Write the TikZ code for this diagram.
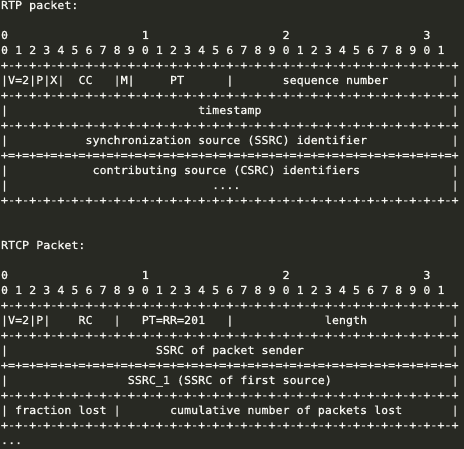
\documentclass[tikz,border=0pt]{standalone}
\usepackage{fontspec}
\setmainfont[FakeStretch=1.063,FakeBold=0.9,Ligatures=NoCommon]{DejaVu Sans Mono}
\definecolor{termbg}{HTML}{282923}
\definecolor{termfg}{HTML}{F4F4F0}
\newcommand{\asc}[4]{\node[asc] (#1) at ({1+7.04*#2},{9+15*#3}) {#4};}
\newcommand{\dashrule}{+-+-+-+-+-+-+-+-+-+-+-+-+-+-+-+-+-+-+-+-+-+-+-+-+-+-+-+-+-+-+-+-+}
\newcommand{\eqrule}{+=+=+=+=+=+=+=+=+=+=+=+=+=+=+=+=+=+=+=+=+=+=+=+=+=+=+=+=+=+=+=+=+}
\newcommand{\bitrow}{0 1 2 3 4 5 6 7 8 9 0 1 2 3 4 5 6 7 8 9 0 1 2 3 4 5 6 7 8 9 0 1}
\begin{document}
\begin{tikzpicture}[x=1pt,y=-1pt,
  asc/.style={anchor=base west, inner sep=0pt, outer sep=0pt, text=termfg,
              font=\fontsize{11}{13}\selectfont}]
\fill[termbg] (0,0) rectangle (464,449);
\useasboundingbox (0,0) rectangle (464,449);
% ---------------- RTP packet ----------------
\asc{rtptitle}{0}{0}{RTP packet:}
\asc{rtpt0}{0}{2}{0}
\asc{rtpt1}{20}{2}{1}
\asc{rtpt2}{40}{2}{2}
\asc{rtpt3}{60}{2}{3}
\asc{rtpbits}{0}{3}{\bitrow}
\asc{rtpr1}{0}{4}{\dashrule}
\asc{rtpa}{0}{5}{|V=2|P|X|}
\asc{rtpcc}{11}{5}{CC}
\asc{rtpm}{16}{5}{|M|}
\asc{rtppt}{24}{5}{PT}
\asc{rtpb1}{32}{5}{|}
\asc{rtpseq}{40}{5}{sequence number}
\asc{rtpb2}{64}{5}{|}
\asc{rtpr2}{0}{6}{\dashrule}
\asc{rtpl7}{0}{7}{|}
\asc{rtpts}{28}{7}{timestamp}
\asc{rtpe7}{64}{7}{|}
\asc{rtpr3}{0}{8}{\dashrule}
\asc{rtpl9}{0}{9}{|}
\asc{rtpssrc}{12}{9}{synchronization source (SSRC) identifier}
\asc{rtpe9}{64}{9}{|}
\asc{rtpr4}{0}{10}{\eqrule}
\asc{rtpl11}{0}{11}{|}
\asc{rtpcsrc}{13}{11}{contributing source (CSRC) identifiers}
\asc{rtpe11}{64}{11}{|}
\asc{rtpl12}{0}{12}{|}
\asc{rtpdots}{30}{12}{....}
\asc{rtpe12}{64}{12}{|}
\asc{rtpr5}{0}{13}{\dashrule}
% ---------------- RTCP packet ----------------
\asc{rtcptitle}{0}{16}{RTCP Packet:}
\asc{rtcpt0}{0}{18}{0}
\asc{rtcpt1}{20}{18}{1}
\asc{rtcpt2}{40}{18}{2}
\asc{rtcpt3}{60}{18}{3}
\asc{rtcpbits}{0}{19}{\bitrow}
\asc{rtcpr1}{0}{20}{\dashrule}
\asc{rtcpa}{0}{21}{|V=2|P|}
\asc{rtcprc}{11}{21}{RC}
\asc{rtcpb0}{16}{21}{|}
\asc{rtcppt}{20}{21}{PT=RR=201}
\asc{rtcpb1}{32}{21}{|}
\asc{rtcplen}{46}{21}{length}
\asc{rtcpb2}{64}{21}{|}
\asc{rtcpr2}{0}{22}{\dashrule}
\asc{rtcpl23}{0}{23}{|}
\asc{rtcpsender}{22}{23}{SSRC of packet sender}
\asc{rtcpe23}{64}{23}{|}
\asc{rtcpr3}{0}{24}{\eqrule}
\asc{rtcpl25}{0}{25}{|}
\asc{rtcpssrc}{18}{25}{SSRC\_1 (SSRC of first source)}
\asc{rtcpe25}{64}{25}{|}
\asc{rtcpr4}{0}{26}{\dashrule}
\asc{rtcpfrac}{0}{27}{| fraction lost |}
\asc{rtcpcum}{24}{27}{cumulative number of packets lost}
\asc{rtcpe27}{64}{27}{|}
\asc{rtcpr5}{0}{28}{\dashrule}
\asc{rtcpmore}{0}{29}{...}
\end{tikzpicture}
\end{document}
